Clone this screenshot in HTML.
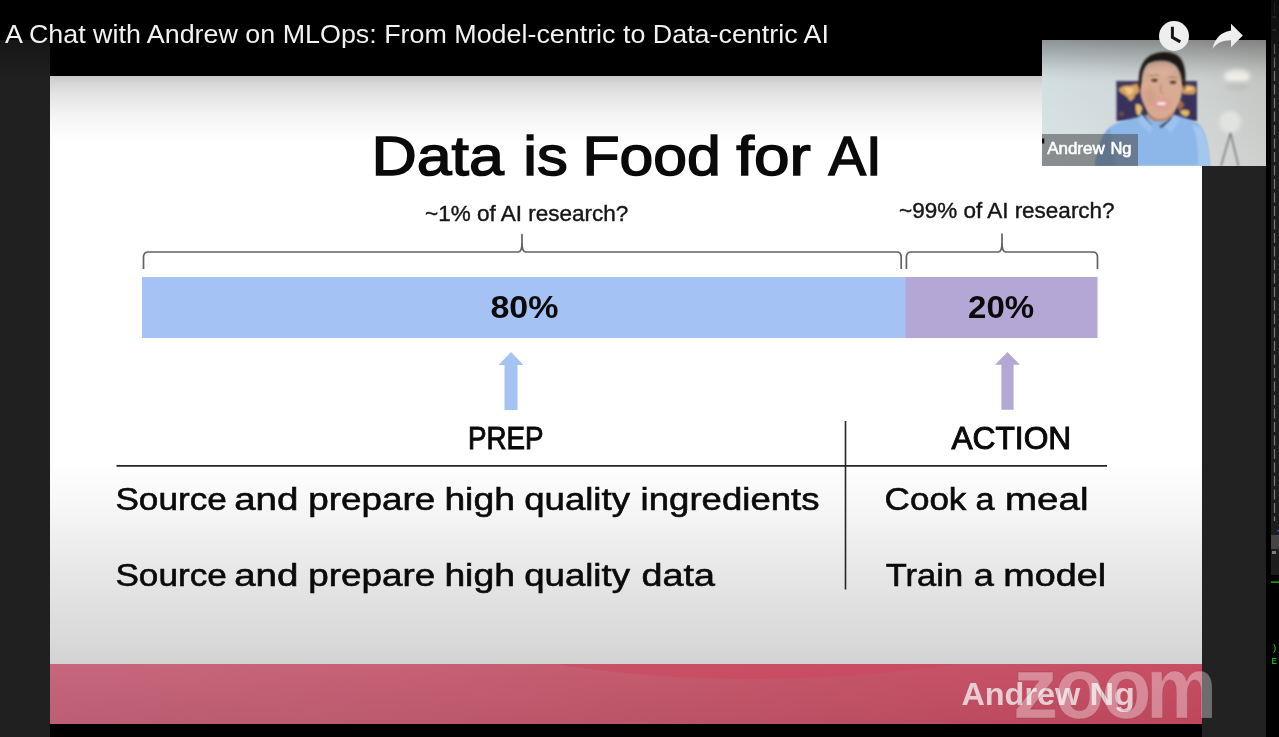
<!DOCTYPE html>
<html lang="en">
<head>
<meta charset="utf-8">
<title>A Chat with Andrew on MLOps: From Model-centric to Data-centric AI</title>
<style>
  html, body { margin: 0; padding: 0; background: #000; }
  body { width: 1279px; height: 737px; overflow: hidden; position: relative;
         font-family: "Liberation Sans", sans-serif; }
  .abs { position: absolute; }
  #player { left: 0; top: 0; width: 1279px; height: 737px; background: #000; overflow: hidden; }
  #left-strip { left: 0; top: 40px; width: 50px; height: 697px; background: #202020; }
  #right-strip { left: 1202px; top: 40px; width: 64px; height: 697px; background: #222222; }
  #slide { left: 50px; top: 76px; width: 1152px; height: 648px;
           background: linear-gradient(to bottom, #cdcdcd 0px, #e2e2e2 16px, #f4f4f4 40px, #fdfdfd 60px, #ffffff 72px, #ffffff 385px, #f6f6f6 432px, #e5e5e5 505px, #dadada 560px, #d3d3d3 588px); }
  #yt-gradient { left: 0; top: 0; width: 1279px; height: 90px;
           background: linear-gradient(to bottom, rgba(0,0,0,0.6) 0px, rgba(0,0,0,0.34) 40px, rgba(0,0,0,0.2) 55px, rgba(0,0,0,0.07) 69px, rgba(0,0,0,0.015) 78px, rgba(0,0,0,0) 84px); }
  #banner { left: 0; top: 588px; width: 1152px; height: 60px;
            background: linear-gradient(to right, #c6637a 0%, #c65e73 30%, #c4576b 55%, #c65066 75%, #c84a60 100%); }
  #banner:after { content: ""; position: absolute; left: 0; top: 0; right: 0; bottom: 0;
            background: linear-gradient(to bottom, rgba(255,255,255,0.02), rgba(0,0,0,0.05)); }
  #overlay { left: 0; top: 0; }
  #yt-title { left: 5px; top: 16.4px; color: #fff; font-size: 26.5px; line-height: 36px; white-space: nowrap;
              transform-origin: 0 50%; transform: scaleX(1.0135); color: #f1f1f1; }
  #webcam { left: 1042px; top: 40px; width: 224px; height: 126px; overflow: hidden; background: #cfd6d9; }
  #edge { left: 1266px; top: 0; width: 13px; height: 737px; background: #000; }
</style>
</head>
<body>
<div id="player" class="abs">
  <div id="left-strip" class="abs"></div>
  <div id="right-strip" class="abs"></div>

  <div id="slide" class="abs">
    <div id="banner" class="abs"></div>
  </div>

  <div id="webcam" class="abs">
    <svg class="abs" style="left:0;top:0" width="224" height="126" viewBox="1042 40 224 126">
      <defs>
        <linearGradient id="wall" x1="0" y1="0" x2="1" y2="0">
          <stop offset="0" stop-color="#d3dfe2"/>
          <stop offset="0.35" stop-color="#cfd7d9"/>
          <stop offset="0.7" stop-color="#cdd1d0"/>
          <stop offset="1" stop-color="#c3c6c3"/>
        </linearGradient>
        <linearGradient id="wallv" x1="0" y1="0" x2="0" y2="1">
          <stop offset="0" stop-color="#b9bfc1" stop-opacity="0"/>
          <stop offset="0.35" stop-color="#ffffff" stop-opacity="0"/>
          <stop offset="1" stop-color="#ffffff" stop-opacity="0.18"/>
        </linearGradient>
        <filter id="b1" x="-20%" y="-20%" width="140%" height="140%"><feGaussianBlur stdDeviation="0.9"/></filter>
        <filter id="b2" x="-30%" y="-30%" width="160%" height="160%"><feGaussianBlur stdDeviation="2.2"/></filter>
        <filter id="b3" x="-50%" y="-50%" width="200%" height="200%"><feGaussianBlur stdDeviation="4"/></filter>
      </defs>
      <rect x="1042" y="40" width="224" height="126" fill="url(#wall)"/>
      <rect x="1042" y="40" width="224" height="126" fill="url(#wallv)"/>
      <!-- wall lamp and floor lamp -->
      <ellipse cx="1237" cy="76" rx="13" ry="7" fill="#f4f3ee" filter="url(#b2)"/>
      <ellipse cx="1237" cy="86" rx="11" ry="5" fill="#b9bbb8" opacity="0.6" filter="url(#b2)"/>
      <ellipse cx="1230" cy="122" rx="11" ry="11" fill="#e2e3e1" filter="url(#b2)"/>
      <path d="M1230.5 133 L1221 166 M1230.5 133 L1238.5 166" stroke="#6f706c" stroke-width="1.3" fill="none" filter="url(#b1)"/>
      <!-- world map painting -->
      <g filter="url(#b1)">
        <rect x="1116.5" y="81" width="80.5" height="40" fill="#37335a"/>
        <rect x="1116.5" y="81" width="80.5" height="5" fill="#3f3a5c"/>
        <path d="M1119 89 q4 -4 10 -3 l8 -2 q4 3 2 8 l-4 3 q-1 5 -5 6 q-3 -5 -7 -7 q-4 -2 -4 -5z" fill="#d6a060"/>
        <path d="M1124 88 q6 -2 10 1 q-1 5 -6 6 z" fill="#f0c884"/>
        <path d="M1136 104 q5 0 6 4 q0 6 -3 8 q-4 -3 -3 -12z" fill="#e8c070"/>
        <circle cx="1121.500" cy="114" r="2.500" fill="#6a4a50"/>
        <path d="M1182 86 q7 -2 13 1 q2 4 -1 7 q-7 1 -12 -1 q-2 -4 0 -7z" fill="#cf9a5c"/>
        <path d="M1186 87 q5 -1 8 1 q-2 3 -8 3z" fill="#efc680"/>
        <path d="M1178 100 q5 1 6 5 q-2 5 -5 5 q-3 -4 -1 -10z" fill="#9c6a4c"/>
        <path d="M1180 111 q5 -2 9 0 q1 3 -2 5 q-5 1 -7 -5z" fill="#e8bc62"/>
      </g>
      <!-- shirt -->
      <path d="M1095 166 C1097 148 1102 134 1110 127 Q1118 121 1130 119 L1146 115 L1176 115 L1194 121 Q1203 125 1206 138 Q1209 150 1210 166 Z" fill="#8db7e9" filter="url(#b1)"/>
      <path d="M1095 166 C1097 148 1102 134 1110 128 L1116 166 Z" fill="#769fd4" opacity="0.65" filter="url(#b1)"/>
      <path d="M1198 166 Q1199 140 1192 124 L1201 128 Q1208 140 1210 166 Z" fill="#a9caef" opacity="0.85" filter="url(#b1)"/>
      <path d="M1160 128 L1160 166" stroke="#7ca6da" stroke-width="1.2" filter="url(#b1)"/>
      <!-- neck and dark inner collar -->
      <path d="M1147 102 L1175 102 L1174 116 Q1161 126 1148 118 Z" fill="#b4846e" filter="url(#b1)"/>
      <path d="M1142.500 111 Q1144 120 1151 126 M1172 118 Q1167 124 1160 127" stroke="#363c52" stroke-width="2.400" fill="none" filter="url(#b1)"/>
      <!-- shirt collar points -->
      <path d="M1141 114 L1138 122 L1150 133 L1153 126 Z" fill="#9cc2ee" filter="url(#b1)"/>
      <path d="M1174 116 L1180 120 L1171 133 L1164 127 Z" fill="#9cc2ee" filter="url(#b1)"/>
      <!-- face -->
      <path d="M1140 84 Q1140 64 1161 60 Q1182 64 1182.500 84 Q1183 98 1176 109 Q1168 119 1160.500 119 Q1152 119 1146 109 Q1139.500 98 1140 84 Z" fill="#d9ab93" filter="url(#b1)"/>
      <ellipse cx="1161" cy="70" rx="15" ry="7" fill="#e6bca4" opacity="0.85" filter="url(#b2)"/>
      <ellipse cx="1150" cy="96" rx="6" ry="9" fill="#cf9a82" opacity="0.55" filter="url(#b2)"/>
      <ellipse cx="1161" cy="104" rx="11" ry="7" fill="#d99a92" opacity="0.6" filter="url(#b2)"/>
      <!-- hair -->
      <path d="M1139.500 91 Q1135.500 64 1151 55 Q1164 49.500 1176 54.500 Q1188.500 62 1184.500 90 L1181.500 79 Q1180 66 1170 62 Q1158 58.500 1148 63.500 Q1142 69 1141.500 82 Z" fill="#211a18" filter="url(#b1)"/>
      <!-- eyes, nose, mouth -->
      <g filter="url(#b1)">
        <ellipse cx="1154.500" cy="80.300" rx="3.200" ry="1.500" fill="#4e3a32"/>
        <ellipse cx="1173" cy="82.300" rx="3.200" ry="1.500" fill="#4e3a32"/>
        <path d="M1149.500 76 q5 -2 10 -0.500 M1168 77.500 q5 -1.500 9.500 1" stroke="#8a6656" stroke-width="1" fill="none" opacity="0.7"/>
        <path d="M1161 84 q-1.500 8 2 10" stroke="#b98a74" stroke-width="1.300" fill="none"/>
        <path d="M1153.500 102.500 q7.500 -2.500 15 0.500 q-7.500 7 -15 -0.500z" fill="#e89a9e"/>
        <ellipse cx="1161.500" cy="103.600" rx="4.500" ry="1.500" fill="#f6e9e8"/>
      </g>
      <!-- name label -->
      <rect x="1042" y="134" width="96" height="32" fill="#4a4e50" fill-opacity="0.57"/>
      <rect x="1042" y="138.5" width="2.3" height="5" fill="#0c0c0c"/>
      <text y="154" font-family="'Liberation Sans', sans-serif" font-size="16.2" fill="#ffffff" stroke="#ffffff" stroke-width="0.55"><tspan x="1047.2" textLength="57.51" lengthAdjust="spacingAndGlyphs">Andrew</tspan> <tspan x="1110.4" textLength="21.16" lengthAdjust="spacingAndGlyphs">Ng</tspan></text>
    </svg>
  </div>
  <div id="edge" class="abs">
    <svg class="abs" style="left:0;top:0" width="13" height="737" viewBox="1266 0 13 737">
      <rect x="1271" y="0" width="8" height="575" fill="#1d1d1d"/>
      <line x1="1274.5" y1="44" x2="1274.5" y2="521" stroke="#7a7a7a" stroke-width="1.2" stroke-dasharray="10 3.5"/>
      <rect x="1272.5" y="16.5" width="3.5" height="1" fill="#6a6a6a"/>
      <rect x="1272.5" y="29.5" width="3.5" height="1" fill="#6a6a6a"/>
      <line x1="1274.5" y1="2" x2="1274.5" y2="13" stroke="#444" stroke-width="1"/>
      <rect x="1277.5" y="530" width="1.5" height="1.5" fill="#4a7be0"/>
      <rect x="1271" y="535" width="8" height="14" fill="#454545"/>
      <rect x="1272.5" y="551" width="1" height="3" fill="#ddd"/>
      <rect x="1274.5" y="551" width="1" height="3" fill="#ddd"/>
      <rect x="1271" y="581.5" width="8" height="1.2" fill="#27d827"/>
      <text x="1271.5" y="651" font-family="'Liberation Mono', monospace" font-size="9.5" fill="#27d827">)</text>
      <text x="1271.5" y="663.5" font-family="'Liberation Mono', monospace" font-size="9.5" fill="#27d827">E</text>
    </svg>
  </div>

  <svg id="overlay" class="abs" width="1279" height="737" viewBox="0 0 1279 737">
    <text y="174.5" font-family="'Liberation Sans', sans-serif" font-size="56" fill="#0a0a0a" stroke="#0a0a0a" stroke-width="1.5"><tspan x="371.4" textLength="132.5" lengthAdjust="spacingAndGlyphs">Data</tspan> <tspan x="523.2" textLength="44.51" lengthAdjust="spacingAndGlyphs">is</tspan> <tspan x="582.4" textLength="138.4" lengthAdjust="spacingAndGlyphs">Food</tspan> <tspan x="736.2" textLength="74.62" lengthAdjust="spacingAndGlyphs">for</tspan> <tspan x="828.6" textLength="53.15" lengthAdjust="spacingAndGlyphs">AI</tspan></text>
    <text y="221" font-family="'Liberation Sans', sans-serif" font-size="22" fill="#161616" stroke="#161616" stroke-width="0.4"><tspan x="425.0" textLength="203.17" lengthAdjust="spacingAndGlyphs">~1% of AI research?</tspan></text>
    <text y="217.6" font-family="'Liberation Sans', sans-serif" font-size="22" fill="#161616" stroke="#161616" stroke-width="0.4"><tspan x="899.0" textLength="215.62" lengthAdjust="spacingAndGlyphs">~99% of AI research?</tspan></text>
    <!-- bars -->
    <rect x="142" y="277" width="764" height="61" fill="#a4c2f4"/>
    <rect x="905.5" y="277" width="192" height="61" fill="#b4a7d6"/>
    <text y="317.8" font-family="'Liberation Sans', sans-serif" font-size="31.5" font-weight="bold" fill="#0a0a0a"><tspan x="490.4" textLength="68.03" lengthAdjust="spacingAndGlyphs">80%</tspan></text>
    <text y="317.8" font-family="'Liberation Sans', sans-serif" font-size="31.5" font-weight="bold" fill="#0a0a0a"><tspan x="968.0" textLength="66.15" lengthAdjust="spacingAndGlyphs">20%</tspan></text>
    <!-- braces -->
    <g fill="none" stroke="#626262" stroke-width="1.7" stroke-linejoin="round">
      <path d="M143.5 269 L143.5 257 Q143.8 252 148 252 L518.5 252 Q522 251.5 522 243 L522 234.5 L522 243 Q522 251.5 525.5 252 L897 252 Q901 252 901.2 257 L901.2 269"/>
      <path d="M906.4 269 L906.4 257 Q906.6 252 911 252 L998.5 252 Q1002 251.500 1002 243 L1002 234 L1002 243 Q1002 251.500 1005.500 252 L1093 252 Q1097.300 252 1097.500 257 L1097.500 269"/>
    </g>
    <!-- arrows -->
    <path d="M511 352 L523.5 365 L517.5 365 L517.5 410 L504.5 410 L504.5 365 L498.5 365 Z" fill="#a4c2f4"/>
    <path d="M1007.5 352 L1020 364.8 L1013.6 364.8 L1013.6 409.8 L1001.4 409.8 L1001.4 364.8 L995 364.8 Z" fill="#b4a7d6"/>
    <!-- table -->
    <g stroke="#262626" stroke-width="1.6">
      <line x1="116.5" y1="465.9" x2="1107" y2="465.9"/>
      <line x1="845.5" y1="421" x2="845.5" y2="589.5"/>
    </g>
    <text y="449.0" font-family="'Liberation Sans', sans-serif" font-size="31.5" fill="#0a0a0a" stroke="#0a0a0a" stroke-width="1.0"><tspan x="468.0" textLength="75.46" lengthAdjust="spacingAndGlyphs">PREP</tspan></text>
    <text y="449.0" font-family="'Liberation Sans', sans-serif" font-size="31.5" fill="#0a0a0a" stroke="#0a0a0a" stroke-width="1.0"><tspan x="951.4" textLength="119.84" lengthAdjust="spacingAndGlyphs">ACTION</tspan></text>
    <text y="509.5" font-family="'Liberation Sans', sans-serif" font-size="32" fill="#0a0a0a" stroke="#0a0a0a" stroke-width="0.6"><tspan x="115.4" textLength="111.43" lengthAdjust="spacingAndGlyphs">Source</tspan> <tspan x="234.2" textLength="64.28" lengthAdjust="spacingAndGlyphs">and</tspan> <tspan x="308.2" textLength="127.01" lengthAdjust="spacingAndGlyphs">prepare</tspan> <tspan x="444.4" textLength="70.48" lengthAdjust="spacingAndGlyphs">high</tspan> <tspan x="524.2" textLength="105.78" lengthAdjust="spacingAndGlyphs">quality</tspan> <tspan x="640.6" textLength="178.92" lengthAdjust="spacingAndGlyphs">ingredients</tspan></text>
    <text y="586.1" font-family="'Liberation Sans', sans-serif" font-size="32" fill="#0a0a0a" stroke="#0a0a0a" stroke-width="0.6"><tspan x="115.4" textLength="111.43" lengthAdjust="spacingAndGlyphs">Source</tspan> <tspan x="234.2" textLength="64.28" lengthAdjust="spacingAndGlyphs">and</tspan> <tspan x="308.2" textLength="127.01" lengthAdjust="spacingAndGlyphs">prepare</tspan> <tspan x="444.4" textLength="70.48" lengthAdjust="spacingAndGlyphs">high</tspan> <tspan x="524.2" textLength="105.78" lengthAdjust="spacingAndGlyphs">quality</tspan> <tspan x="641.6" textLength="73.34" lengthAdjust="spacingAndGlyphs">data</tspan></text>
    <text y="509.8" font-family="'Liberation Sans', sans-serif" font-size="32" fill="#0a0a0a" stroke="#0a0a0a" stroke-width="0.6"><tspan x="884.6" textLength="81.8" lengthAdjust="spacingAndGlyphs">Cook</tspan> <tspan x="975.6" textLength="19.07" lengthAdjust="spacingAndGlyphs">a</tspan> <tspan x="1005.0" textLength="83.44" lengthAdjust="spacingAndGlyphs">meal</tspan></text>
    <text y="586.3" font-family="'Liberation Sans', sans-serif" font-size="32" fill="#0a0a0a" stroke="#0a0a0a" stroke-width="0.6"><tspan x="885.8" textLength="77.26" lengthAdjust="spacingAndGlyphs">Train</tspan> <tspan x="973.8" textLength="20.13" lengthAdjust="spacingAndGlyphs">a</tspan> <tspan x="1003.2" textLength="102.91" lengthAdjust="spacingAndGlyphs">model</tspan></text>
    <path d="M556 664 Q745 694 958 664 Z" fill="#cf3f58" fill-opacity="0.38"/>
    <text y="704.6" font-family="'Liberation Sans', sans-serif" font-size="30.5" font-weight="bold" fill="#e9dcde" fill-opacity="0.9"><tspan x="961.4" textLength="118.9" lengthAdjust="spacingAndGlyphs">Andrew</tspan> <tspan x="1089.4" textLength="45.53" lengthAdjust="spacingAndGlyphs">Ng</tspan></text>
    <g font-family="'Liberation Sans', sans-serif" font-size="87.5" font-weight="bold" fill="#ffffff" fill-opacity="0.34" stroke="#5a2a34" stroke-opacity="0.22" stroke-width="0.8">
      <text y="717.8"><tspan x="1012.5" textLength="46" lengthAdjust="spacingAndGlyphs">z</tspan><tspan x="1054.5" textLength="50" lengthAdjust="spacingAndGlyphs">o</tspan><tspan x="1101.5" textLength="50" lengthAdjust="spacingAndGlyphs">o</tspan><tspan x="1146" textLength="71" lengthAdjust="spacingAndGlyphs">m</tspan></text>
    </g>
  </svg>

  <div id="yt-gradient" class="abs"></div>
  <svg id="yt-icons" class="abs" style="left:0;top:0" width="1279" height="80" viewBox="0 0 1279 80">
    <circle cx="1174" cy="36" r="15" fill="#eeeeee"/>
    <path d="M1172.4 26.8 L1172.4 37.4 L1180.3 41.9" fill="none" stroke="#151515" stroke-width="3" stroke-linejoin="miter"/>
    <g transform="translate(1207.5 15.3) scale(1.68)">
      <path d="M14 9V5l7 7-7 7v-4.1c-5 0-8.500 1.600-11 5.100 1-5 4-10 11-11z" fill="#eeeeee"/>
    </g>
  </svg>
  <div id="yt-title" class="abs">A Chat with Andrew on MLOps: From Model-centric to Data-centric AI</div>
</div>
</body>
</html>
